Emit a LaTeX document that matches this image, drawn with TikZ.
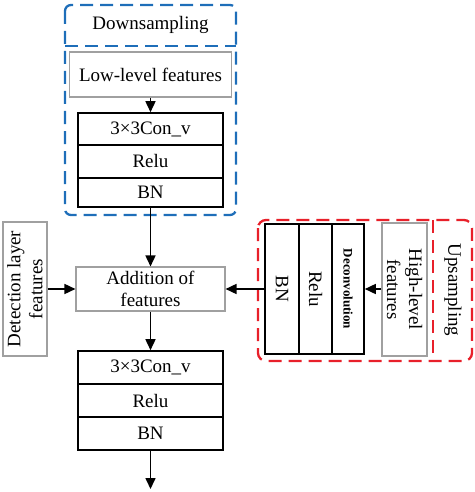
\documentclass[tikz,border=0pt]{standalone}
\usepackage{fontspec}
\setmainfont{Liberation Serif}
\usetikzlibrary{arrows.meta}
\definecolor{dblue}{RGB}{30,110,185}
\definecolor{dred}{RGB}{232,32,42}
\definecolor{gborder}{RGB}{160,160,160}
\begin{document}
\begin{tikzpicture}[x=1pt,y=-1pt,
  every node/.style={font=\fontsize{19}{22}\selectfont, inner sep=0pt, align=center},
  blk/.style={draw=black,line width=1.6pt,minimum width=145pt},
  gbox/.style={draw=gborder,line width=1.1pt},
  arr/.style={line width=1.6pt,-{Triangle[length=11pt,width=10pt]}},
  bdash/.style={draw=dblue,line width=2.3pt,dash pattern=on 13pt off 7pt},
  rdash/.style={draw=dred,line width=2.3pt,dash pattern=on 13pt off 7pt},
  vblk/.style={draw=black,line width=1.6pt,minimum height=130pt},
]
\useasboundingbox (0,0) rectangle (474,492);

% Downsampling frame
\draw[bdash,rounded corners=6pt] (65,5) rectangle (236,215);
\draw[bdash] (65,46) -- (236,46);
\node (down) at (150.5,25) {Downsampling};
\node[gbox,minimum width=162pt,minimum height=45pt] (low) at (150.5,74.5) {Low-level features};
\node[blk,minimum height=32pt] (con1) at (150.5,129) {3×3Con\_v};
\node[blk,minimum height=33pt] (relu1) at (150.5,161.5) {Relu};
\node[blk,minimum height=29pt] (bn1) at (150.5,192.5) {BN};

% Addition
\node[gbox,minimum width=149pt,minimum height=44pt] (add) at (150.5,289) {Addition of\\features};

% Detection layer
\node[gbox,minimum width=44pt,minimum height=134pt] (det) at (25,289) {};
\node[rotate=90] (dett) at (det.center) {Detection layer\\features};

% Upsampling frame
\draw[rdash,rounded corners=8pt] (258,220) rectangle (472,361);
\draw[rdash] (433,220) -- (433,361);
\node[rotate=-90] (up) at (453,290) {Upsampling};
\node[vblk,minimum width=34pt] (bnv) at (282,289) {};
\node[rotate=-90] (bnvt) at (bnv.center) {BN};
\node[vblk,minimum width=33pt] (reluv) at (315.5,289) {};
\node[rotate=-90] (reluvt) at (reluv.center) {Relu};
\node[vblk,minimum width=32pt] (deconv) at (348,289) {};
\node[rotate=-90,font=\fontsize{13}{15}\selectfont\bfseries] (deconvt) at (deconv.center) {Deconvolution};
\node[gbox,minimum width=45pt,minimum height=133pt] (high) at (404.5,289.5) {};
\node[rotate=-90] (hight) at (high.center) {High-level\\features};

% Block 2
\node[blk,minimum height=33pt] (con2) at (150.5,367.5) {3×3Con\_v};
\node[blk,minimum height=33pt] (relu2) at (150.5,400.5) {Relu};
\node[blk,minimum height=33pt] (bn2) at (150.5,433.5) {BN};
\coordinate (out) at (150.5,489);

% Arrows
\draw[arr] (low.south) -- (con1.north);
\draw[arr] (bn1.south) -- (add.north);
\draw[arr] (det.east |- add.west) -- (add.west);
\draw[arr] (bnv.west |- add.east) -- (add.east);
\draw[arr] (high.west |- deconv.east) -- (deconv.east);
\draw[arr] (add.south) -- (con2.north);
\draw[arr] (bn2.south) -- (out);
\end{tikzpicture}
\end{document}
